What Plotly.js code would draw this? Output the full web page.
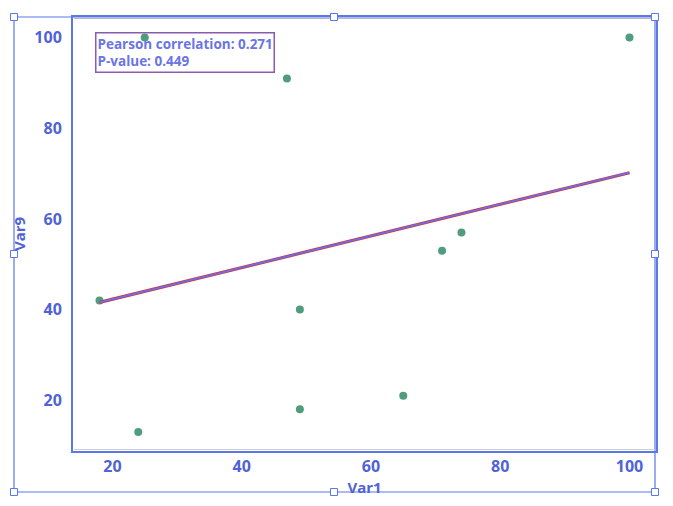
<!DOCTYPE html>
<html><head><meta charset="utf-8">
<script src="https://cdn.plot.ly/plotly-3.0.1.min.js"></script>
<style>html,body{margin:0;padding:0;background:#fff}</style>
</head><body><div id="chart" style="width:673px;height:506px"></div>
<script>
const var1 = [25, 47, 100, 71, 74, 18, 49, 49, 65, 24];
const var9 = [100, 91, 100, 53, 57, 42, 40, 18, 21, 13];
const fitX = [18, 100];
const fitY = [41.6, 70.2];
const xTicks = [20, 40, 60, 80, 100];
const yTicks = [20, 40, 60, 80, 100];
const statsText = ['Pearson correlation: 0.271', 'P-value: 0.449'];

const blue = '#5b78e8';
const txt = '#4f63d6';
const W = 673, H = 506, L = 73, R = 17, T = 17, B = 55;
const pw = W - L - R, ph = H - T - B;
const px = x => (x - L) / pw;
const py = y => (H - B - y) / ph;

const traces = [
  {x: var1, y: var9, mode: 'markers', type: 'scatter',
   marker: {color: '#4f9d7c', size: 8}, hoverinfo: 'skip'},
  {x: fitX, y: fitY, mode: 'lines', type: 'scatter',
   line: {color: '#e03030', width: 3.2}},
  {x: fitX, y: fitY, mode: 'lines', type: 'scatter',
   line: {color: '#6272ee', width: 1.8}}
];

const shapes = [
  {type: 'rect', xref: 'paper', yref: 'paper', x0: px(14), x1: px(655), y0: py(492), y1: py(17),
   line: {color: blue, width: 1.2}, fillcolor: 'rgba(0,0,0,0)'},
  {type: 'line', xref: 'paper', yref: 'paper', x0: px(74), x1: px(655), y0: py(18.5), y1: py(18.5),
   line: {color: '#b8b8c0', width: 1}},
  {type: 'line', xref: 'paper', yref: 'paper', x0: px(74), x1: px(655), y0: py(449.5), y1: py(449.5),
   line: {color: '#d0d0d0', width: 1}}
];
const handles = [[14,17],[334,17],[655,17],[14,254],[655,254],[14,492],[334,492],[655,492]];
handles.forEach(h => shapes.push({
  type: 'rect', xref: 'paper', yref: 'paper', xsizemode: 'pixel', ysizemode: 'pixel',
  xanchor: px(h[0]), yanchor: py(h[1]), x0: -3.5, x1: 3.5, y0: -3.5, y1: 3.5,
  line: {color: blue, width: 1}, fillcolor: '#ffffff'
}));

const layout = {
  width: W, height: H, margin: {l: L, r: R, t: T, b: B},
  paper_bgcolor: '#fff', plot_bgcolor: '#fff', showlegend: false,
  font: {family: 'Open Sans, sans-serif'},
  xaxis: {range: [13.9, 104.1], tickvals: xTicks, showgrid: false, zeroline: false,
    showline: true, mirror: true, linecolor: blue, linewidth: 2, ticks: '',
    tickfont: {size: 16, color: txt, weight: 'bold'},
    title: {text: 'Var1', font: {size: 15, color: txt, weight: 'bold'}, standoff: 6}},
  yaxis: {range: [8.8, 104.55], tickvals: yTicks, showgrid: false, zeroline: false,
    showline: true, mirror: true, linecolor: blue, linewidth: 2, ticks: '',
    tickfont: {size: 16, color: txt, weight: 'bold'}, ticklabelstandoff: 6,
    title: {text: 'Var9', font: {size: 15, color: txt, weight: 'bold'}, standoff: 5}},
  shapes: shapes,
  annotations: [{
    xref: 'paper', yref: 'paper', x: px(95), y: py(32), xanchor: 'left', yanchor: 'top',
    text: statsText.join('<br>'), showarrow: false, align: 'left',
    font: {size: 13.5, color: '#6a74e6', weight: 'bold'},
    bordercolor: '#8a5ab0', borderwidth: 1.5, borderpad: 1, bgcolor: 'rgba(0,0,0,0)'
  }]
};
Plotly.newPlot('chart', traces, layout, {displayModeBar: false, staticPlot: true});
</script></body></html>
